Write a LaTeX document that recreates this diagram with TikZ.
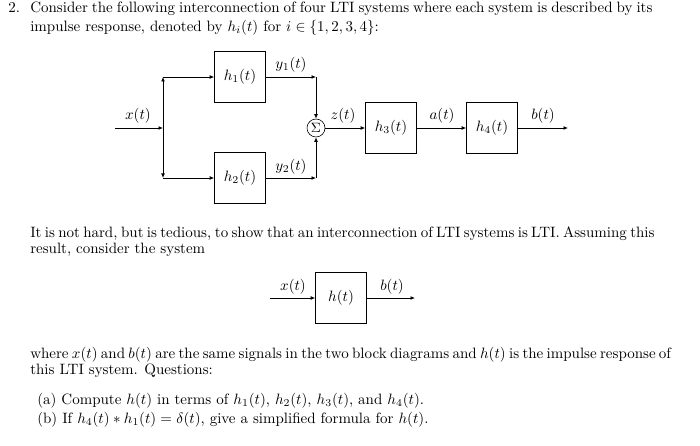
\documentclass[tikz,border=0pt]{standalone}
\usetikzlibrary{arrows.meta}
\newcommand{\jline}[1]{\hbox to 415pt{#1}}
\begin{document}
\begin{tikzpicture}[x=0.667pt,y=-0.667pt,
  blk/.style={draw,minimum width=34pt,minimum height=34pt,inner sep=0pt},
  sig/.style={-{Latex[length=3pt,width=2.5pt]},line width=0.5pt},
  ln/.style={anchor=north west,inner sep=0pt},
  lab/.style={inner sep=1pt}]
\useasboundingbox (0,0) rectangle (700,446);
\node[ln] (n2) at (8,2) {2.};
\node[ln] (p1a) at (30,2) {\jline{Consider the following interconnection of four LTI systems where each system is described by its}};
\node[ln] (p1b) at (30,20) {impulse response, denoted by $h_i(t)$ for $i\in\{1,2,3,4\}$:};
\node[blk] (h1) at (240,77) {$h_1(t)$};
\node[blk] (h2) at (240,178) {$h_2(t)$};
\node[draw,circle,inner sep=0pt,minimum size=12pt,font=\small] (s) at (316,128) {$\Sigma$};
\node[blk] (h3) at (391,128) {$h_3(t)$};
\node[blk] (h4) at (492,128) {$h_4(t)$};
\coordinate (xin) at (115,128);
\coordinate (br) at (163,128);
\coordinate (bt) at (163,77);
\coordinate (bb) at (163,178);
\coordinate (st) at (316,77);
\coordinate (sb) at (316,178);
\coordinate (out) at (568,128);
\draw[sig] (xin) -- (br);
\draw[sig] (br) -- (bt);
\draw[sig] (br) -- (bb);
\draw[sig] (bt) -- (h1);
\draw[sig] (bb) -- (h2);
\draw[sig] (h1) -- (st);
\draw[sig] (st) -- (s);
\draw[sig] (h2) -- (sb);
\draw[sig] (sb) -- (s);
\draw[sig] (s) -- (h3);
\draw[sig] (h3) -- (h4);
\draw[sig] (h4) -- (out);
\node[lab] (lx) at (138,116) {$x(t)$};
\node[lab] (ly1) at (291,65) {$y_1(t)$};
\node[lab] (ly2) at (291,167) {$y_2(t)$};
\node[lab] (lz) at (343,116) {$z(t)$};
\node[lab] (la) at (442,116) {$a(t)$};
\node[lab] (lb) at (543,116) {$b(t)$};
\node[ln] (p2a) at (30,226) {\jline{It is not hard, but is tedious, to show that an interconnection of LTI systems is LTI. Assuming this}};
\node[ln] (p2b) at (30,243) {result, consider the system};
\node[blk] (h) at (341,298) {$h(t)$};
\coordinate (hin) at (270,298);
\coordinate (hout) at (415,298);
\draw[sig] (hin) -- (h);
\draw[sig] (h) -- (hout);
\node[lab] (lx2) at (293,287) {$x(t)$};
\node[lab] (lb2) at (392,287) {$b(t)$};
\node[ln] (p3a) at (30,347) {\jline{where $x(t)$ and $b(t)$ are the same signals in the two block diagrams and $h(t)$ is the impulse response of}};
\node[ln] (p3b) at (30,364) {this LTI system. Questions:};
\node[ln] (qa) at (37,393) {(a) Compute $h(t)$ in terms of $h_1(t)$, $h_2(t)$, $h_3(t)$, and $h_4(t)$.};
\node[ln] (qb) at (37,412) {(b) If $h_4(t)*h_1(t)=\delta(t)$, give a simplified formula for $h(t)$.};
\end{tikzpicture}
\end{document}
